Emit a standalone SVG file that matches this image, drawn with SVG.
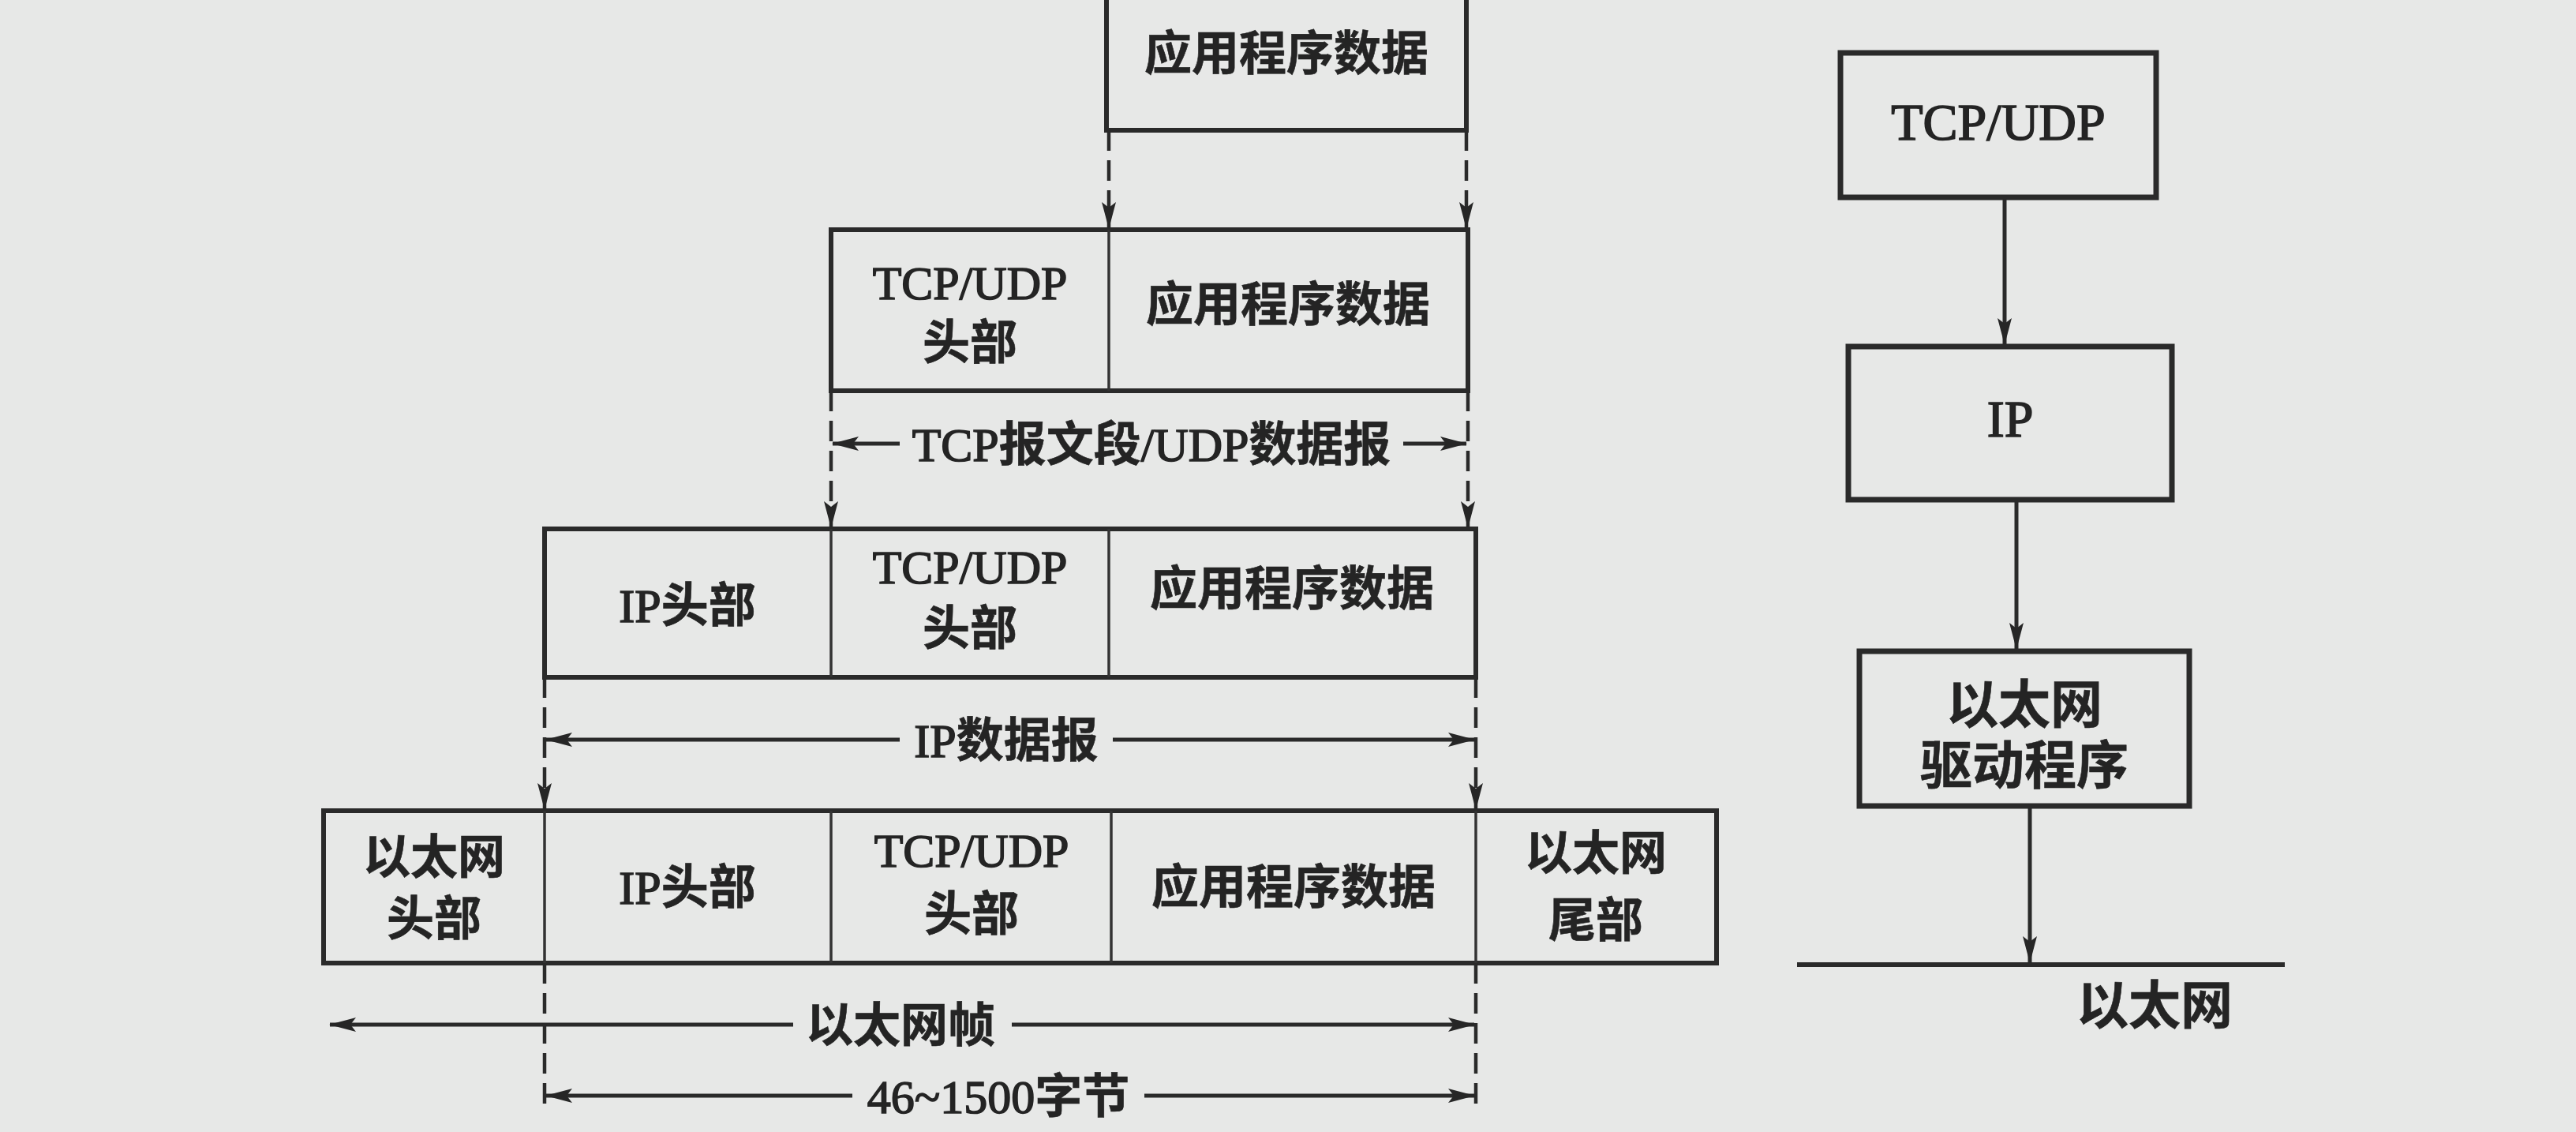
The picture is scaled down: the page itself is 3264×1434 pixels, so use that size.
<svg xmlns="http://www.w3.org/2000/svg" width="3264" height="1434" viewBox="0 0 3264 1434">
<style>
.bg{fill:#e7e8e7}
.box{fill:none;stroke:#2a2a2a;stroke-width:6}
.div{fill:none;stroke:#333;stroke-width:3.5}
.dash{fill:none;stroke:#2a2a2a;stroke-width:4.5;stroke-dasharray:26 12}
.arr{fill:none;stroke:#2a2a2a;stroke-width:5}
text{font-family:"Liberation Serif","Noto Sans CJK SC",serif;font-size:60px;fill:#242424;text-anchor:middle;stroke:#242424;stroke-width:1.6}
.c{font-weight:700;stroke-width:0.6}
.big{font-size:66px}
</style>
<defs>
<marker id="ah" viewBox="0 0 34 22" refX="33" refY="11" markerWidth="34" markerHeight="22" markerUnits="userSpaceOnUse" orient="auto-start-reverse">
<path d="M0,2 L34,11 L0,20 L7,11 z" fill="#262626"/>
</marker>
</defs>
<rect class="bg" x="0" y="0" width="3264" height="1434"/>

<g id="row1">
<rect class="box" x="1402" y="-10" width="456" height="175"/>
<text class="c" x="1630" y="89">应用程序数据</text>
</g>

<g id="row2">
<rect class="box" x="1053" y="291" width="807" height="204"/>
<line class="div" x1="1405" y1="291" x2="1405" y2="495"/>
<text x="1229" y="379">TCP/UDP</text>
<text class="c" x="1229" y="455">头部</text>
<text class="c" x="1632" y="407">应用程序数据</text>
</g>

<g id="row3">
<rect class="box" x="690" y="670" width="1180" height="188"/>
<line class="div" x1="1053" y1="670" x2="1053" y2="858"/>
<line class="div" x1="1405" y1="670" x2="1405" y2="858"/>
<text x="871" y="788">IP<tspan class="c">头部</tspan></text>
<text x="1229" y="739">TCP/UDP</text>
<text class="c" x="1229" y="817">头部</text>
<text class="c" x="1637" y="767">应用程序数据</text>
</g>

<g id="row4">
<rect class="box" x="410" y="1027" width="1765" height="193"/>
<line class="div" x1="690" y1="1027" x2="690" y2="1220"/>
<line class="div" x1="1053" y1="1027" x2="1053" y2="1220"/>
<line class="div" x1="1408" y1="1027" x2="1408" y2="1220"/>
<line class="div" x1="1870" y1="1027" x2="1870" y2="1220"/>
<text class="c" x="550" y="1107">以太网</text>
<text class="c" x="550" y="1185">头部</text>
<text x="871" y="1145">IP<tspan class="c">头部</tspan></text>
<text x="1231" y="1098">TCP/UDP</text>
<text class="c" x="1231" y="1179">头部</text>
<text class="c" x="1639" y="1145">应用程序数据</text>
<text class="c" x="2022" y="1102">以太网</text>
<text class="c" x="2022" y="1187">尾部</text>
</g>

<g id="labels">
<text x="1459" y="584">TCP<tspan class="c">报文段</tspan>/UDP<tspan class="c">数据报</tspan></text>
<text x="1275" y="959">IP<tspan class="c">数据报</tspan></text>
<text class="c" x="1141" y="1320">以太网帧</text>
<text x="1265" y="1410">46~1500<tspan class="c">字节</tspan></text>
</g>

<g id="stack-tcpudp">
<rect class="box" x="2332" y="67" width="400" height="183" style="stroke-width:7"/>
<text class="big" x="2532" y="177">TCP/UDP</text>
</g>
<g id="stack-ip">
<rect class="box" x="2342" y="439" width="410" height="194" style="stroke-width:7"/>
<text class="big" x="2547" y="553">IP</text>
</g>
<g id="stack-driver">
<rect class="box" x="2356" y="825" width="418" height="196" style="stroke-width:7"/>
<text class="c big" x="2565" y="916">以太网</text>
<text class="c big" x="2565" y="993">驱动程序</text>
</g>
<g id="stack-ethernet">
<line x1="2277" y1="1222" x2="2895" y2="1222" stroke="#2a2a2a" stroke-width="6"/>
<text class="c big" x="2730" y="1297">以太网</text>
</g>

<g id="connectors">
<line class="dash" x1="1405" y1="165" x2="1405" y2="289" marker-end="url(#ah)"/>
<line class="dash" x1="1858" y1="165" x2="1858" y2="289" marker-end="url(#ah)"/>

<line class="dash" x1="1053" y1="495" x2="1053" y2="668" marker-end="url(#ah)"/>
<line class="dash" x1="1860" y1="495" x2="1860" y2="668" marker-end="url(#ah)"/>
<line class="arr" x1="1140" y1="562" x2="1055" y2="562" marker-end="url(#ah)"/>
<line class="arr" x1="1778" y1="562" x2="1858" y2="562" marker-end="url(#ah)"/>

<line class="dash" x1="690" y1="858" x2="690" y2="1025" marker-end="url(#ah)"/>
<line class="dash" x1="1870" y1="858" x2="1870" y2="1025" marker-end="url(#ah)"/>
<line class="arr" x1="1140" y1="937" x2="692" y2="937" marker-end="url(#ah)"/>
<line class="arr" x1="1410" y1="937" x2="1868" y2="937" marker-end="url(#ah)"/>

<line class="arr" x1="1005" y1="1298" x2="418" y2="1298" marker-end="url(#ah)"/>
<line class="arr" x1="1282" y1="1298" x2="1868" y2="1298" marker-end="url(#ah)"/>

<line class="dash" x1="690" y1="1220" x2="690" y2="1400"/>
<line class="dash" x1="1870" y1="1220" x2="1870" y2="1400"/>
<line class="arr" x1="1080" y1="1388" x2="692" y2="1388" marker-end="url(#ah)"/>
<line class="arr" x1="1450" y1="1388" x2="1868" y2="1388" marker-end="url(#ah)"/>

<line class="arr" x1="2540" y1="250" x2="2540" y2="436" marker-end="url(#ah)"/>
<line class="arr" x1="2555" y1="633" x2="2555" y2="822" marker-end="url(#ah)"/>
<line class="arr" x1="2572" y1="1021" x2="2572" y2="1219" marker-end="url(#ah)"/>
</g>
</svg>
